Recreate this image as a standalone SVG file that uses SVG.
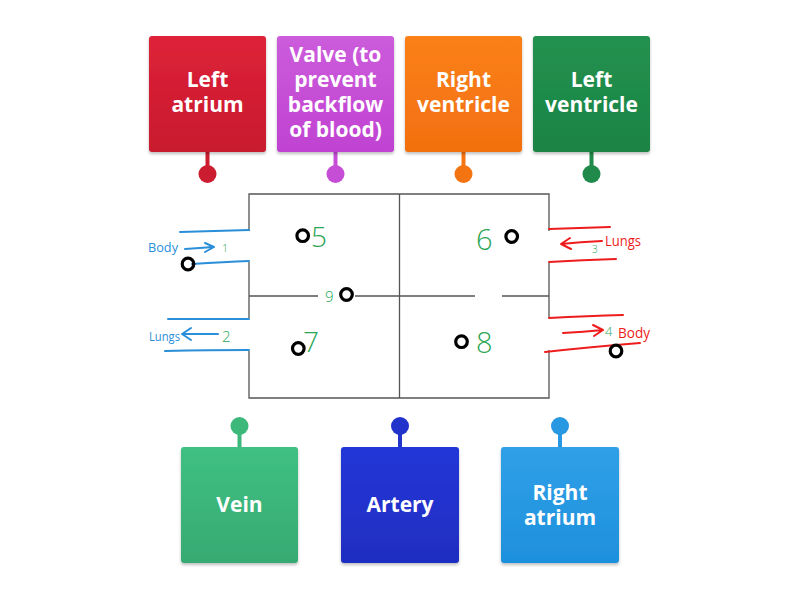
<svg xmlns="http://www.w3.org/2000/svg" width="800" height="600" viewBox="0 0 800 600">
<defs>
<linearGradient id="gRed" x1="0" y1="0" x2="0" y2="1"><stop offset="0" stop-color="#de2238"/><stop offset="1" stop-color="#c81a2e"/></linearGradient>
<linearGradient id="gPurple" x1="0" y1="0" x2="0" y2="1"><stop offset="0" stop-color="#cc5cdb"/><stop offset="1" stop-color="#c042d2"/></linearGradient>
<linearGradient id="gOrange" x1="0" y1="0" x2="0" y2="1"><stop offset="0" stop-color="#fb8018"/><stop offset="1" stop-color="#f27010"/></linearGradient>
<linearGradient id="gDGreen" x1="0" y1="0" x2="0" y2="1"><stop offset="0" stop-color="#229150"/><stop offset="1" stop-color="#1c8444"/></linearGradient>
<linearGradient id="gLGreen" x1="0" y1="0" x2="0" y2="1"><stop offset="0" stop-color="#40c083"/><stop offset="1" stop-color="#36aa72"/></linearGradient>
<linearGradient id="gBlue" x1="0" y1="0" x2="0" y2="1"><stop offset="0" stop-color="#2436d8"/><stop offset="1" stop-color="#1f2ec0"/></linearGradient>
<linearGradient id="gSky" x1="0" y1="0" x2="0" y2="1"><stop offset="0" stop-color="#30a0e8"/><stop offset="1" stop-color="#1e90dc"/></linearGradient>
<filter id="sh" x="-10%" y="-10%" width="120%" height="125%"><feDropShadow dx="0" dy="2" stdDeviation="1.5" flood-color="#000" flood-opacity="0.25"/></filter>
</defs>
<style>
.lbl{font-family:"Open Sans","Liberation Sans",sans-serif;font-weight:700;font-size:21px;fill:#ffffff;text-anchor:middle}
.wall{stroke:#555;stroke-width:1.3;fill:none}
.hb{stroke:#2a8fd8;stroke-width:2;fill:none;stroke-linecap:round;stroke-linejoin:round}
.hr{stroke:#ee1c1c;stroke-width:2;fill:none;stroke-linecap:round;stroke-linejoin:round}
.pin{fill:none;stroke:#000;stroke-width:3.2}
.num{font-family:"Open Sans","Liberation Sans",sans-serif;font-weight:300;fill:#2aa654}
.hbt{font-family:"Open Sans","Liberation Sans",sans-serif;font-weight:400;font-size:13px;fill:#2a8fd8}
.hrt{font-family:"Open Sans","Liberation Sans",sans-serif;font-weight:400;font-size:14px;fill:#ee1c1c}
</style>
<rect width="800" height="600" fill="#ffffff"/>

<g id="heart">
<path class="wall" d="M249 231 V194 H549 V231 M249 262 V318 M249 351 V398 H549 V350 M549 263 V318"/>
<path class="wall" d="M399.5 194 V398"/>
<path class="wall" d="M249 296 H318 M355 296 H475 M502 296 H549"/>
</g>

<g id="connectors">
<path class="hb" d="M180 232 Q215 231 249 230"/>
<path class="hb" d="M192 264 Q225 262 249 261"/>
<path class="hb" d="M168 319 H249"/>
<path class="hb" d="M165 351 Q210 350 249 350"/>
<path class="hb" d="M185 249 Q200 248 213 247 M205 243 L214 247 L205 252"/>
<path class="hb" d="M218 334 H183 M191 328 L182 334 L191 340"/>
<path class="hr" d="M549 229 Q580 228 610 227"/>
<path class="hr" d="M549 262 Q583 260 616 259"/>
<path class="hr" d="M549 318 Q588 316 623 315"/>
<path class="hr" d="M545 352 Q590 347 640 343"/>
<path class="hr" d="M602 241 Q580 242 561 244 M570 238 L561 244 L571 249"/>
<path class="hr" d="M563 333 Q583 332 603 330 M593 325 L603 330 L594 336"/>
</g>

<g id="labels-hand">
<text class="hbt" x="148" y="252" textLength="30" lengthAdjust="spacingAndGlyphs">Body</text>
<text class="num" x="222" y="252" font-size="11">1</text>
<text class="hbt" x="149" y="341" textLength="31" lengthAdjust="spacingAndGlyphs">Lungs</text>
<text class="num" x="222" y="342" font-size="15">2</text>
<text class="num" x="592" y="253" font-size="10">3</text>
<text class="hrt" x="605" y="246" textLength="36" lengthAdjust="spacingAndGlyphs">Lungs</text>
<text class="num" x="605" y="336" font-size="13">4</text>
<text class="hrt" x="618" y="338" textLength="32" lengthAdjust="spacingAndGlyphs">Body</text>
<text class="num" x="311" y="247" font-size="28">5</text>
<text class="num" x="476" y="250" font-size="29">6</text>
<text class="num" x="303" y="352" font-size="28">7</text>
<text class="num" x="476" y="353" font-size="29">8</text>
<text class="num" x="325" y="302" font-size="15">9</text>
</g>

<g id="pins">
<circle class="pin" cx="188" cy="264" r="5.8"/>
<circle class="pin" cx="302.7" cy="235.7" r="5.8"/>
<circle class="pin" cx="346.5" cy="294.5" r="5.8"/>
<circle class="pin" cx="298.3" cy="348.5" r="5.8"/>
<circle class="pin" cx="511.7" cy="236.5" r="5.8"/>
<circle class="pin" cx="461.5" cy="341.7" r="5.8"/>
<circle class="pin" cx="616" cy="351" r="5.8"/>
</g>

<g id="left-atrium">
<rect x="205.5" y="150" width="4" height="18" fill="#cc1c30"/>
<circle cx="207.5" cy="174" r="9" fill="#cc1c30"/>
<rect x="149" y="36" width="117" height="116" rx="3" fill="url(#gRed)" filter="url(#sh)"/>
<text class="lbl" x="207.5" y="87">Left</text>
<text class="lbl" x="207.5" y="112">atrium</text>
</g>

<g id="valve">
<rect x="333.5" y="150" width="4" height="18" fill="#c64ed6"/>
<circle cx="335.5" cy="174" r="9" fill="#c64ed6"/>
<rect x="277" y="36" width="117" height="116" rx="3" fill="url(#gPurple)" filter="url(#sh)"/>
<text class="lbl" x="335.5" y="62">Valve (to</text>
<text class="lbl" x="335.5" y="87">prevent</text>
<text class="lbl" x="335.5" y="112">backflow</text>
<text class="lbl" x="335.5" y="137">of blood)</text>
</g>

<g id="right-ventricle">
<rect x="461.5" y="150" width="4" height="18" fill="#f57412"/>
<circle cx="463.5" cy="174" r="9" fill="#f57412"/>
<rect x="405" y="36" width="117" height="116" rx="3" fill="url(#gOrange)" filter="url(#sh)"/>
<text class="lbl" x="463.5" y="87">Right</text>
<text class="lbl" x="463.5" y="112">ventricle</text>
</g>

<g id="left-ventricle">
<rect x="589.5" y="150" width="4" height="18" fill="#1f8a4a"/>
<circle cx="591.5" cy="174" r="9" fill="#1f8a4a"/>
<rect x="533" y="36" width="117" height="116" rx="3" fill="url(#gDGreen)" filter="url(#sh)"/>
<text class="lbl" x="591.5" y="87">Left</text>
<text class="lbl" x="591.5" y="112">ventricle</text>
</g>

<g id="vein">
<rect x="237.5" y="430" width="4" height="19" fill="#3cb87b"/>
<circle cx="239.5" cy="426" r="9" fill="#3cb87b"/>
<rect x="181" y="447" width="117" height="116" rx="3" fill="url(#gLGreen)" filter="url(#sh)"/>
<text class="lbl" x="239.5" y="512">Vein</text>
</g>

<g id="artery">
<rect x="398" y="430" width="4" height="19" fill="#2233cc"/>
<circle cx="400" cy="426" r="9" fill="#2233cc"/>
<rect x="341" y="447" width="118" height="116" rx="3" fill="url(#gBlue)" filter="url(#sh)"/>
<text class="lbl" x="400" y="512">Artery</text>
</g>

<g id="right-atrium">
<rect x="558" y="430" width="4" height="19" fill="#2898e2"/>
<circle cx="560" cy="426" r="9" fill="#2898e2"/>
<rect x="501" y="447" width="118" height="116" rx="3" fill="url(#gSky)" filter="url(#sh)"/>
<text class="lbl" x="560" y="500">Right</text>
<text class="lbl" x="560" y="525">atrium</text>
</g>
</svg>
